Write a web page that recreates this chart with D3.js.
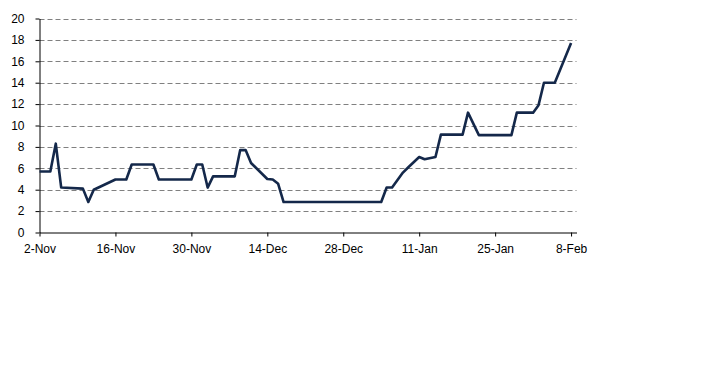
<!DOCTYPE html>
<html>
<head>
<meta charset="utf-8">
<script src="https://cdn.jsdelivr.net/npm/d3@7"></script>
<style>
  body { margin: 0; background: #fff; }
  svg { display: block; }
  .tick text { font-family: "Liberation Sans", Arial, sans-serif; font-size: 12px; fill: #000; }
</style>
</head>
<body>
<svg id="chart" width="722" height="369"></svg>
<script>
// values (vertices of the line)
var dates = [
  "2008-11-02", "2008-11-04", "2008-11-05", "2008-11-06", "2008-11-10", "2008-11-11",
  "2008-11-12", "2008-11-16", "2008-11-18", "2008-11-19", "2008-11-23", "2008-11-24",
  "2008-11-30", "2008-12-01", "2008-12-02", "2008-12-03", "2008-12-04", "2008-12-08",
  "2008-12-09", "2008-12-10", "2008-12-11", "2008-12-14", "2008-12-15", "2008-12-16",
  "2008-12-17", "2009-01-04", "2009-01-05", "2009-01-06", "2009-01-08", "2009-01-09",
  "2009-01-11", "2009-01-12", "2009-01-14", "2009-01-15", "2009-01-19", "2009-01-20",
  "2009-01-22", "2009-01-28", "2009-01-29", "2009-02-01", "2009-02-02", "2009-02-03",
  "2009-02-05", "2009-02-08"
]
var values = [
  5.7, 5.7, 8.3, 4.2, 4.1, 2.85,
  4.0, 4.95, 4.95, 6.35, 6.35, 4.95,
  4.95, 6.35, 6.35, 4.2, 5.25, 5.25,
  7.7, 7.7, 6.5, 5.0, 4.95, 4.55,
  2.85, 2.85, 4.2, 4.2, 5.6, 6.1,
  7.05, 6.85, 7.05, 9.15, 9.15, 11.2,
  9.1, 9.1, 11.2, 11.2, 11.9, 14.0,
  14.0, 17.7
]
var tickDates = ["2008-11-02", "2008-11-16", "2008-11-30", "2008-12-14",
  "2008-12-28", "2009-01-11", "2009-01-25", "2009-02-08"]
var yTicks = [0, 2, 4, 6, 8, 10, 12, 14, 16, 18, 20]

var parse = d3.timeParse("%Y-%m-%d")
var data = dates.map(function(d, i) {
  return { date: parse(d), value: values[i] }
})

var plotLeft = 39.5, plotRight = 576.5, plotTop = 18.5, plotBottom = 232.5
var svg = d3.select("#chart")

var x = d3.scaleTime()
  .domain([parse("2008-11-02"), parse("2009-02-09")])
  .range([plotLeft, plotRight])
var y = d3.scaleLinear()
  .domain([0, 20])
  .range([plotBottom, plotTop])

// dashed grid
svg.append("g")
  .selectAll("line")
  .data(yTicks.slice(1))
  .enter()
  .append("line")
  .attr("x1", plotLeft)
  .attr("x2", plotRight)
  .attr("y1", function(d) { return Math.round(y(d)) + 0.5 })
  .attr("y2", function(d) { return Math.round(y(d)) + 0.5 })
  .attr("stroke", "#808080")
  .attr("stroke-dasharray", "5,3")

var xAxis = svg.append("g")
  .attr("transform", "translate(0," + plotBottom + ")")
  .call(d3.axisBottom(x)
    .tickValues(tickDates.map(parse))
    .tickSize(4)
    .tickSizeOuter(0)
    .tickFormat(d3.timeFormat("%-d-%b")))
xAxis.select(".domain").attr("stroke", "#000")
xAxis.selectAll(".tick line").attr("stroke", "#000")
xAxis.selectAll(".tick text").attr("y", 12)

var yAxis = svg.append("g")
  .attr("transform", "translate(" + plotLeft + ",0)")
  .call(d3.axisLeft(y)
    .tickValues(yTicks)
    .tickSize(4)
    .tickSizeOuter(0))
yAxis.select(".domain").attr("stroke", "#000")
yAxis.selectAll(".tick line").attr("stroke", "#000")
yAxis.selectAll(".tick text").attr("x", -15)

var line = d3.line()
  .x(function(d) { return x(d.date) })
  .y(function(d) { return y(d.value) })

svg.append("path")
  .datum(data)
  .attr("fill", "none")
  .attr("stroke", "#14284a")
  .attr("stroke-width", 2.6)
  .attr("stroke-linejoin", "round")
  .attr("d", line)
</script>
</body>
</html>
